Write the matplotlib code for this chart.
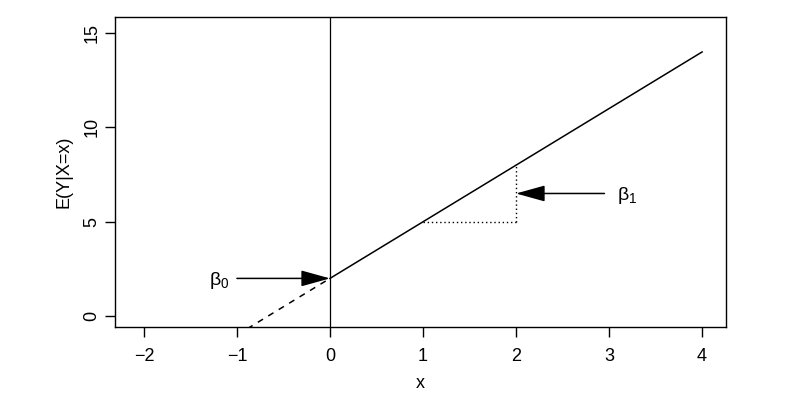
import matplotlib
matplotlib.use("Agg")
import matplotlib.pyplot as plt
import numpy as np

plt.rcParams['font.family'] = ['Liberation Sans', 'DejaVu Sans']

# regression line E(Y|X=x) = b0 + b1 x
b0 = 2
b1 = 3
x_solid = [0, 4]
x_dashed = [-1, 0]
xticks = [-2, -1, 0, 1, 2, 3, 4]
yticks = [0, 5, 10, 15]

fig = plt.figure(figsize=(7.99, 3.96), dpi=100)
ax = fig.add_axes([0.144, 0.174, 0.765, 0.783])

xs = np.array(x_solid)
xd = np.array(x_dashed)
ax.plot(xs, b0 + b1 * xs, color='k', lw=1.1)
ax.plot(xd, b0 + b1 * xd, color='k', lw=1.1, ls=(0, (4, 4)))
ax.axvline(0, color='k', lw=0.9)

# slope triangle
ax.plot([1, 2], [b0 + b1 * 1, b0 + b1 * 1], color='k', lw=1, ls=(0, (1, 2)))
ax.plot([2, 2], [b0 + b1 * 1, b0 + b1 * 2], color='k', lw=1, ls=(0, (1, 2)))

arrow = dict(arrowstyle='-|>,head_length=18,head_width=5', mutation_scale=1,
             color='k', lw=1.1, shrinkA=0, shrinkB=0)
ax.annotate('', xy=(0, b0), xytext=(-1.0, b0), arrowprops=arrow)
ax.annotate('', xy=(2, 6.5), xytext=(2.95, 6.5), arrowprops=arrow)
ax.text(-1.08, b0 - 0.1, r'$\mathregular{\beta_0}$', ha='right', va='center', fontsize=14)
ax.text(3.08, 6.5 - 0.1, r'$\mathregular{\beta_1}$', ha='left', va='center', fontsize=14)

ax.set_xlim(-2.31, 4.26)
ax.set_ylim(-0.58, 15.85)
ax.set_xticks(xticks)
ax.set_yticks(yticks)
ax.tick_params(labelsize=13, length=7, width=1)
ax.tick_params(axis='x', pad=8)
for lab in ax.get_yticklabels():
    lab.set_rotation(90)
    lab.set_va('center')
ax.set_xlabel('x', fontsize=13, labelpad=7)
ax.set_ylabel('E(Y|X=x)', fontsize=13, labelpad=8)
for s in ax.spines.values():
    s.set_linewidth(1)

fig.savefig('out.png', dpi=100)
